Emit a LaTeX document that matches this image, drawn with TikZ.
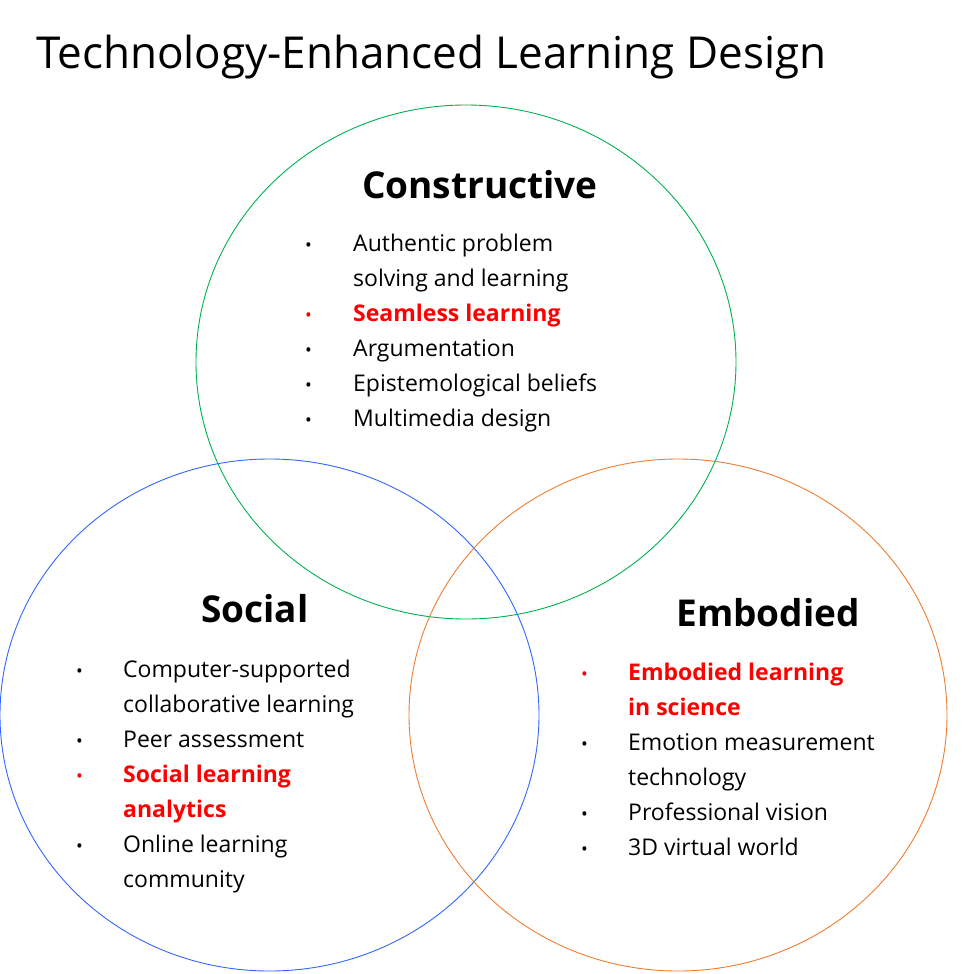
\documentclass[tikz,border=0pt]{standalone}
\usepackage{fontspec}
\setmainfont{Open Sans}
\begin{document}
\begin{tikzpicture}[x=1pt,y=-1pt,
  item/.style={anchor=base west,inner sep=0pt,font=\fontsize{23}{28}\selectfont},
  hot/.style={item,text=red,font=\fontsize{23}{28}\selectfont\bfseries},
  bul/.style={anchor=base west,inner sep=0pt,font=\fontsize{18}{20}\selectfont},
  head/.style={anchor=base,inner sep=0pt,font=\fontsize{37}{42}\selectfont\bfseries},
  ring/.style={line width=0.9pt}]
\useasboundingbox (0,0) rectangle (968,974);
\node[anchor=base west,inner sep=0pt,font=\fontsize{44}{50}\selectfont] (title) at (36,68) {Technology-Enhanced Learning Design};
\draw[ring,color={rgb,255:red,0;green,176;blue,80}] (466,362) ellipse [x radius=270,y radius=257];
\draw[ring,color={rgb,255:red,51;green,102;blue,255}] (269.5,715) ellipse [x radius=269.5,y radius=256];
\draw[ring,color={rgb,255:red,237;green,125;blue,49}] (678,715) ellipse [x radius=269,y radius=256];
\node[head] (hc) at (480,198) {Constructive};
\node[head] (hs) at (255,622) {Social};
\node[head] (he) at (768,626) {Embodied};
% Constructive
\foreach \y/\t/\b [count=\i] in {251/Authentic problem/1,286/solving and learning/0,356/Argumentation/1,391/Epistemological beliefs/1,426/Multimedia design/1}{
  \node[item] (c\i) at (353,\y) {\t};
  \ifnum\b=1 \node[bul] (cb\i) at (305,\y) {•};\fi
}
\node[hot] (cs) at (353,321) {Seamless learning};
\node[bul,text=red] (csb) at (305,321) {•};
% Social
\foreach \y/\t/\b [count=\i] in {677/Computer-supported/1,712/collaborative learning/0,747/Peer assessment/1,852/Online learning/1,887/community/0}{
  \node[item] (s\i) at (123,\y) {\t};
  \ifnum\b=1 \node[bul] (sb\i) at (76,\y) {•};\fi
}
\node[hot] (ss1) at (123,782) {Social learning};
\node[hot] (ss2) at (123,817) {analytics};
\node[bul,text=red] (ssb) at (76,782) {•};
% Embodied
\node[hot] (ee1) at (628,680) {Embodied learning};
\node[hot] (ee2) at (628,715) {in science};
\node[bul,text=red] (eeb) at (581,680) {•};
\foreach \y/\t/\b [count=\i] in {750/Emotion measurement/1,785/technology/0,820/Professional vision/1,855/3D virtual world/1}{
  \node[item] (e\i) at (628,\y) {\t};
  \ifnum\b=1 \node[bul] (eb\i) at (581,\y) {•};\fi
}
\end{tikzpicture}
\end{document}
